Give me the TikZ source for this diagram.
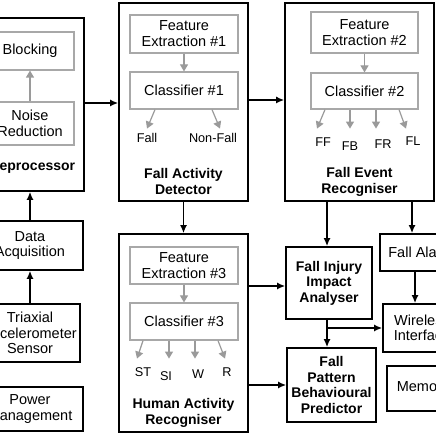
\documentclass[tikz,border=0pt]{standalone}
\usepackage{fontspec}
\setmainfont{Liberation Sans}
\usetikzlibrary{arrows.meta}
\definecolor{innergray}{HTML}{A8A8A8}
\definecolor{arrowgray}{HTML}{9A9A9A}
\begin{document}
\begin{tikzpicture}[
		x=1pt,y=1pt,
		block/.style = {draw, line width=1.7pt, inner sep=0pt, align=center,
			font=\fontsize{14.5}{15.5}\selectfont},
		boldblock/.style = {block, font=\fontsize{14}{15.5}\selectfont\bfseries},
		stage/.style = {draw, line width=1.7pt, inner sep=0pt},
		sub/.style = {draw=innergray, line width=1.2pt, inner sep=0pt, align=center,
			minimum width=108pt, font=\fontsize{14.5}{16}\selectfont},
		title/.style = {align=center, inner sep=0pt, font=\fontsize{14}{16}\selectfont\bfseries},
		outlbl/.style = {inner sep=0pt, font=\fontsize{12.7}{14}\selectfont},
		arr/.style = {line width=1.5pt, -{Latex[length=8pt,width=7pt]}},
		inp/.style = {color=arrowgray, line width=1.2pt, -{Triangle[length=7pt,width=8pt]}}
	]
	\useasboundingbox (0,0) rectangle (435,435);
	% left column
	\node (pre) [stage, minimum width=108pt, minimum height=173pt] at (30,330.5) {};
	\node (blk) [sub, minimum width=88pt, minimum height=38pt] at (30,384) {Blocking};
	\node (nr) [sub, minimum width=88pt, minimum height=43pt] at (30,311.5) {Noise\\Reduction};
	\node (preT) [title] at (30,268) {Preprocessor};
	\node (daq) [block, minimum width=106pt, minimum height=49pt] at (30,189.5) {Data\\Acquisition};
	\node (tri) [block, minimum width=100pt, minimum height=58pt] at (30,102) {Triaxial\\Accelerometer\\Sensor};
	\node (pwr) [block, minimum width=106pt, minimum height=44pt] at (30,26) {Power\\Management};
	% fall activity detector
	\node (fad) [stage, minimum width=129pt, minimum height=198pt] at (183.5,333) {};
	\node (fe1) [sub, minimum height=38pt] at (184,401) {Feature\\Extraction \#1};
	\node (cl1) [sub, minimum height=37pt] at (184,344.5) {Classifier \#1};
	\node (fall) [outlbl] at (147,297) {Fall};
	\node (nonfall) [outlbl] at (213,297) {Non-Fall};
	\node (fadT) [title] at (183.5,253) {Fall Activity\\Detector};
	% fall event recogniser
	\node (fer) [stage, minimum width=149pt, minimum height=198pt] at (359.5,333) {};
	\node (fe2) [sub, minimum width=107pt, minimum height=41pt] at (364.5,402.5) {Feature\\Extraction \#2};
	\node (cl2) [sub, minimum width=107pt, minimum height=36pt] at (364.5,344) {Classifier \#2};
	\node (ff) [outlbl] at (323,293) {FF};
	\node (fb) [outlbl] at (350,289) {FB};
	\node (fr) [outlbl] at (383,291) {FR};
	\node (fl) [outlbl] at (413,294) {FL};
	\node (ferT) [title] at (359.5,253) {Fall Event\\Recogniser};
	% human activity recogniser
	\node (har) [stage, minimum width=129pt, minimum height=198pt] at (183.5,102) {};
	\node (fe3) [sub, minimum height=37pt] at (184,169.5) {Feature\\Extraction \#3};
	\node (cl3) [sub, minimum height=37pt] at (184,113.5) {Classifier \#3};
	\node (st) [outlbl] at (143,63) {ST};
	\node (si) [outlbl] at (166,59) {SI};
	\node (w) [outlbl] at (198,61) {W};
	\node (r) [outlbl] at (227,63) {R};
	\node (harT) [title] at (183.5,22) {Human Activity\\Recogniser};
	% right side
	\node (fiia) [boldblock, minimum width=86pt, minimum height=72pt] at (329,152) {Fall Injury\\Impact\\Analyser};
	\node (fpbp) [boldblock, minimum width=89pt, minimum height=74pt] at (331.5,50) {Fall\\Pattern\\Behavioural\\Predictor};
	\node (alarm) [block, minimum width=82pt, minimum height=37pt] at (421,182.5) {Fall Alarm};
	\node (wless) [block, minimum width=78pt, minimum height=48pt] at (422,107) {Wireless\\Interface};
	\node (mem) [block, minimum width=72pt, minimum height=45pt] at (423,46.5) {Memory};

	\path [inp] (nr) edge (blk);
	\path [inp] (fe1) edge (cl1);
	\path [inp] (fe2) edge (cl2);
	\path [inp] (fe3) edge (cl3);
	\path [inp] ([xshift=-29pt]cl1.south) edge ++(-8,-19);
	\path [inp] ([xshift=28pt]cl1.south) edge ++(8,-19);
	\path [inp] ([xshift=-39.5pt]cl2.south) edge ++(-8,-19);
	\path [inp] ([xshift=-14.5pt]cl2.south) edge ++(0,-19);
	\path [inp] ([xshift=11.5pt]cl2.south) edge ++(0,-19);
	\path [inp] ([xshift=34.5pt]cl2.south) edge ++(7,-19);
	\path [inp] ([xshift=-41pt]cl3.south) edge ++(-6,-18);
	\path [inp] ([xshift=-15pt]cl3.south) edge ++(0,-18);
	\path [inp] ([xshift=11pt]cl3.south) edge ++(0,-18);
	\path [inp] ([xshift=34pt]cl3.south) edge ++(7,-18);

	\path [arr] (tri) edge (daq);
	\path [arr] (daq) edge (pre);
	\path [arr] ([yshift=1.5pt]pre.east) edge ([yshift=1.5pt]pre.east -| fad.west);
	\path [arr] ([yshift=2pt]fad.east) edge ([yshift=2pt]fad.east -| fer.west);
	\path [arr] (fad) edge (har);
	\path [arr] ([xshift=-2pt]fiia.north |- fer.south) edge ([xshift=-2pt]fiia.north);
	\path [arr] ([xshift=-9pt]alarm.north |- fer.south) edge ([xshift=-9pt]alarm.north);
	\path [arr] ([xshift=-6pt]alarm.south) edge ([xshift=-6pt]alarm.south |- wless.north);
	\path [arr] ([yshift=-3pt]fiia.west -| har.east) edge ([yshift=-3pt]fiia.west);
	\path [arr] (fpbp.west -| har.east) edge (fpbp.west);
	\path [arr] ([xshift=-2pt]fiia.south) edge ([xshift=-2pt]fiia.south |- fpbp.north);
	\path [arr] ([xshift=-2pt]fiia.south |- wless.west) edge (wless.west);
\end{tikzpicture}
\end{document}
